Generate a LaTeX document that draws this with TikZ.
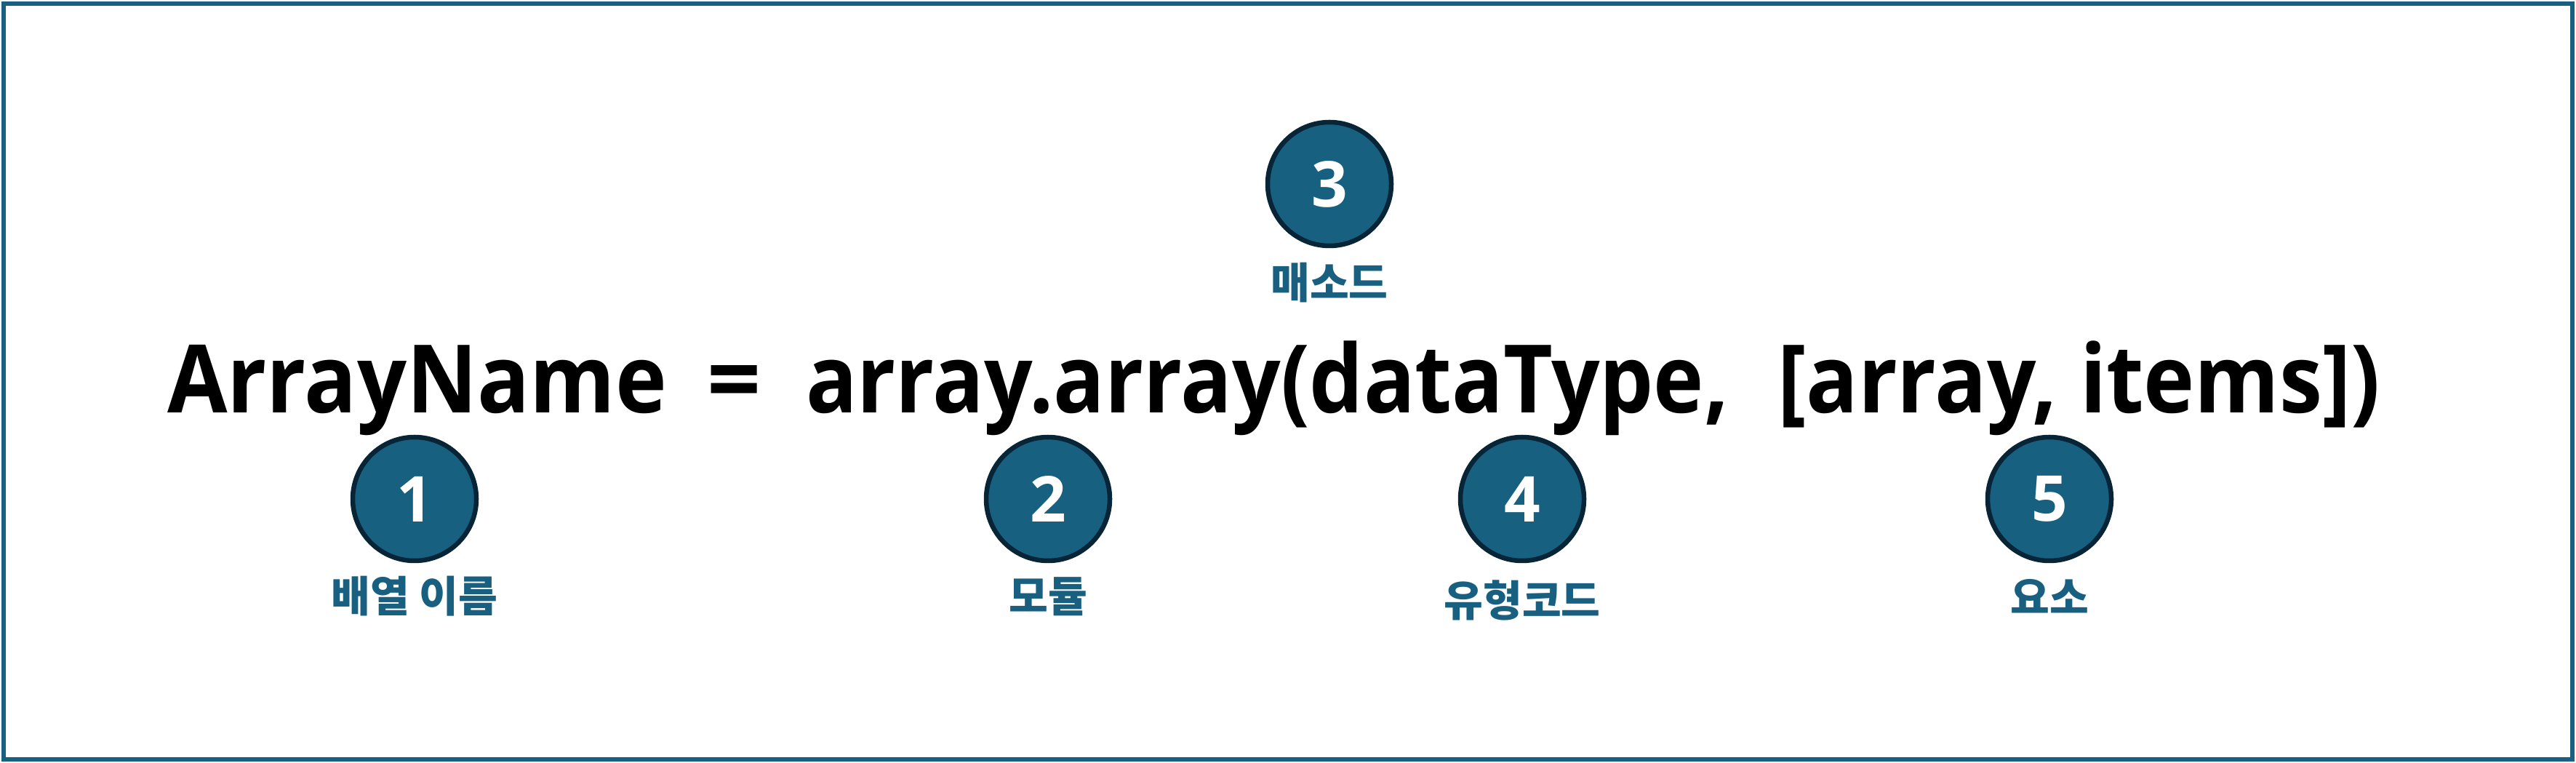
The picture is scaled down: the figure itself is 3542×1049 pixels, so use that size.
\documentclass[tikz,border=0pt]{standalone}
\usepackage{fontspec}
\setmainfont{Open Sans}
\newfontfamily\kr{Noto Sans CJK KR}
\definecolor{frameblue}{HTML}{185F80}
\definecolor{badgefill}{HTML}{176080}
\definecolor{badgeline}{HTML}{072536}
\tikzset{
  badge/.style={circle, fill=badgefill, draw=badgeline, line width=1.3pt,
    minimum size=34pt, inner sep=0pt, text=white,
    font=\fontsize{17.4}{20}\selectfont\bfseries},
  badgelabel/.style={text=frameblue, inner sep=0pt,
    font=\kr\fontsize{11.7}{14}\selectfont\bfseries},
  code/.style={inner sep=0pt, anchor=base west,
    font=\fontsize{26}{30}\selectfont\bfseries}
}
\begin{document}
\begin{tikzpicture}[x=0.2pt,y=-0.2pt]
\useasboundingbox (0,0) rectangle (3542,1049);
\draw[frameblue, line width=1.3pt] (5,5) rectangle (3537,1044);
\node[code] (c1) at (229,568) {\resizebox{137.4pt}{\height}{ArrayName}};
\node[code, anchor=base] (c2) at (1010,568) {=};
\node[code] (c3) at (1107,568) {\resizebox{253.8pt}{\height}{array.array(dataType,}};
\node[code] (c4) at (2443,568) {\resizebox{165.8pt}{\height}{[array, items])}};
\node[badge] (b1) at (570,686) {1};
\node[badge] (b2) at (1441,686) {2};
\node[badge] (b3) at (1828,253) {3};
\node[badge] (b4) at (2093,686) {4};
\node[badge] (b5) at (2818,686) {5};
\node[badgelabel] (l1) at (570,820) {배열 이름};
\node[badgelabel] (l2) at (1441,820) {모듈};
\node[badgelabel] (l3) at (1828,389) {매소드};
\node[badgelabel] (l4) at (2093,825) {유형코드};
\node[badgelabel] (l5) at (2818,820) {요소};
\end{tikzpicture}
\end{document}
